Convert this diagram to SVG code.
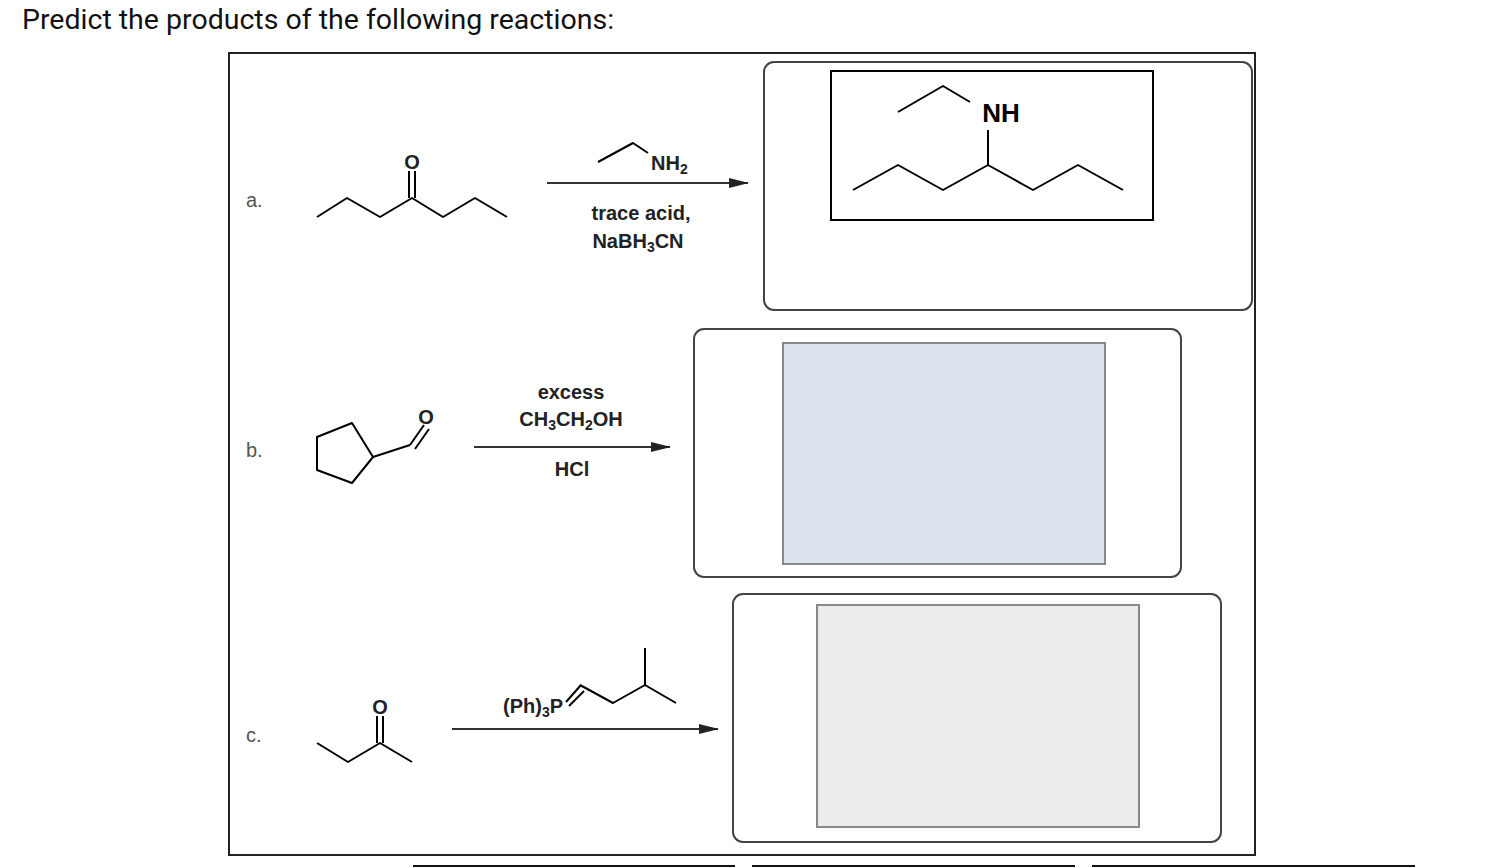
<svg xmlns="http://www.w3.org/2000/svg" width="1502" height="868" viewBox="0 0 1502 868">
<style>
.b{fill:none;stroke:#000;stroke-width:2;stroke-linejoin:round}
.r{font-family:"Liberation Sans",Arial,sans-serif;font-size:20px;font-weight:bold;fill:#222}
.s{font-size:14px}
.box{fill:#fff;stroke:#444;stroke-width:2}
.lab{font-family:"Liberation Sans",Arial,sans-serif;font-size:20px;fill:#555}
.a{stroke:#333;stroke-width:2;marker-end:url(#ah)}
</style>
<defs><marker id="ah" markerWidth="20" markerHeight="10" refX="19" refY="5" orient="auto" markerUnits="userSpaceOnUse"><path d="M0,0L20,5L0,10z" fill="#222"/></marker></defs>
<rect width="1502" height="868" fill="#fff"/>
<text x="22" y="29" font-family="Roboto,'Liberation Sans',sans-serif" font-size="28.5" fill="#111">Predict the products of the following reactions:</text>
<rect x="229" y="53" width="1026" height="802" fill="none" stroke="#222" stroke-width="2"/>
<g id="box-a"><rect class="box" x="764" y="62" width="488" height="248" rx="10"/>
<rect x="831" y="71" width="322" height="149" fill="#fff" stroke="#000" stroke-width="2"/>
<polyline class="b" points="853,190 898,165 943,190 988,165 1033,190 1078,165 1123,190"/>
<line class="b" x1="988" y1="165" x2="988" y2="130"/>
<polyline class="b" points="898,112 943,86 970,102"/>
<text x="1001" y="122" text-anchor="middle" font-family="'Liberation Sans',Arial,sans-serif" font-size="26" font-weight="bold">NH</text></g>
<g id="box-b"><rect class="box" x="694" y="329" width="487" height="248" rx="10"/>
<rect x="783" y="343" width="322" height="221" fill="#d9e2ed" stroke="#888" stroke-width="2"/></g>
<g id="box-c"><rect class="box" x="733" y="594" width="488" height="248" rx="10"/>
<rect x="817" y="605" width="322" height="222" fill="#ececec" stroke="#888" stroke-width="2"/></g>
<g id="rxn-a"><text class="lab" x="246" y="207">a.</text>
<polyline class="b" points="317,217 347,198 380,217 412,198 443,217 475,198 507,217"/>
<line class="b" x1="409" y1="198" x2="409" y2="171"/><line class="b" x1="415" y1="198" x2="415" y2="171"/>
<text class="r" x="412" y="169" text-anchor="middle">O</text>
<polyline class="b" points="598,162 633,143 648,153"/>
<text class="r" x="651" y="170">NH<tspan class="s" dy="4">2</tspan></text>
<text class="r" x="641" y="220" text-anchor="middle">trace acid,</text>
<text class="r" x="638" y="248" text-anchor="middle">NaBH<tspan class="s" dy="4">3</tspan><tspan dy="-4">CN</tspan></text></g>
<g id="rxn-b"><text class="lab" x="246" y="457">b.</text>
<polygon class="b" points="317,437 352,423 373,457 352,483 317,470"/>
<line class="b" x1="373" y1="457" x2="410" y2="445"/>
<line class="b" x1="410" y1="445" x2="424" y2="425"/><line class="b" x1="415" y1="449" x2="429" y2="429"/>
<text class="r" x="426" y="424" text-anchor="middle">O</text>
<text class="r" x="571" y="399" text-anchor="middle">excess</text>
<text class="r" x="571" y="426" text-anchor="middle">CH<tspan class="s" dy="4">3</tspan><tspan dy="-4">CH</tspan><tspan class="s" dy="4">2</tspan><tspan dy="-4">OH</tspan></text>
<text class="r" x="572" y="476" text-anchor="middle">HCl</text></g>
<g id="rxn-c"><text class="lab" x="246" y="742">c.</text>
<polyline class="b" points="317,743 348,762 380,743 412,762"/>
<line class="b" x1="377" y1="743" x2="377" y2="716"/><line class="b" x1="383" y1="743" x2="383" y2="716"/>
<text class="r" x="380" y="714" text-anchor="middle">O</text>
<text class="r" x="503" y="713" font-size="19">(Ph)<tspan class="s" dy="4">3</tspan><tspan dy="-4">P</tspan></text>
<line class="b" x1="566" y1="702" x2="581" y2="685"/><line class="b" x1="569" y1="706" x2="584" y2="691"/>
<polyline class="b" points="580,685 613,703 645,685 676,703"/>
<line class="b" x1="645" y1="685" x2="645" y2="648"/></g>
<g id="connectors">
<line class="a" x1="547" y1="183" x2="748" y2="183"/>
<line class="a" x1="474" y1="447" x2="670" y2="447"/>
<line class="a" x1="452" y1="729" x2="718" y2="729"/>
</g>
<g stroke="#111" stroke-width="2"><line x1="413" y1="866" x2="735" y2="866"/><line x1="752" y1="866" x2="1075" y2="866"/><line x1="1092" y1="866" x2="1415" y2="866"/></g>
</svg>
